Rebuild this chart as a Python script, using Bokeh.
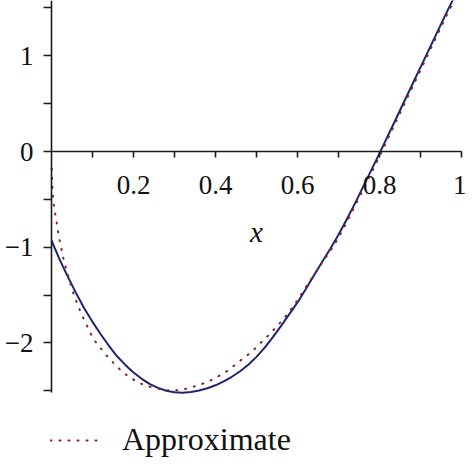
from bokeh.plotting import figure
from bokeh.models import Range1d, FixedTicker
from bokeh.embed import file_html
from bokeh.resources import INLINE

# ---- data ----
x_exact = [0.00, 0.02, 0.04, 0.06, 0.08, 0.10, 0.12, 0.14, 0.16, 0.18, 0.20,
           0.22, 0.24, 0.26, 0.28, 0.30, 0.32, 0.34, 0.36, 0.38, 0.40, 0.42,
           0.44, 0.46, 0.48, 0.50, 0.52, 0.54, 0.56, 0.58, 0.60, 0.62, 0.64,
           0.66, 0.68, 0.70, 0.72, 0.74, 0.76, 0.78, 0.80, 0.84, 0.88, 0.92,
           0.96, 1.00]
y_exact = [-0.93, -1.13, -1.31, -1.48, -1.64, -1.78, -1.91, -2.03, -2.14, -2.23, -2.31,
           -2.375, -2.43, -2.47, -2.50, -2.515, -2.52, -2.513, -2.498, -2.474, -2.443, -2.403,
           -2.354, -2.296, -2.228, -2.146, -2.05, -1.94, -1.822, -1.70, -1.577, -1.44, -1.296,
           -1.155, -1.016, -0.87, -0.71, -0.545, -0.37, -0.195, -0.02, 0.34, 0.70, 1.06,
           1.42, 1.77]

x_approx = [0.0005, 0.002, 0.004, 0.007, 0.011, 0.015, 0.019, 0.024, 0.028, 0.034,
            0.047, 0.054, 0.063, 0.072, 0.082, 0.092, 0.102, 0.118, 0.133, 0.149,
            0.165, 0.184, 0.204, 0.224, 0.247, 0.27, 0.293, 0.317, 0.34, 0.363,
            0.385, 0.406, 0.427, 0.446, 0.463, 0.482, 0.50, 0.516, 0.533, 0.549,
            0.566, 0.58, 0.594, 0.62, 0.64, 0.66, 0.672, 0.687, 0.70, 0.72,
            0.76, 0.80, 0.84, 0.88, 0.92, 0.96, 1.00]
y_approx = [-0.18, -0.35, -0.50, -0.60, -0.70, -0.81, -0.91, -1.01, -1.10, -1.20,
            -1.39, -1.49, -1.59, -1.69, -1.78, -1.87, -1.96, -2.045, -2.125, -2.20,
            -2.27, -2.34, -2.393, -2.438, -2.466, -2.487, -2.50, -2.49, -2.466, -2.435,
            -2.40, -2.351, -2.299, -2.236, -2.177, -2.114, -2.045, -1.975, -1.905, -1.829,
            -1.749, -1.672, -1.592, -1.42, -1.29, -1.16, -1.087, -0.993, -0.902, -0.74,
            -0.40, -0.05, 0.31, 0.67, 1.03, 1.39, 1.74]

x_ticks = [0.2, 0.4, 0.6, 0.8, 1.0]
x_minor_ticks = [0.1, 0.3, 0.5, 0.7, 0.9]
x_tick_labels = ["0.2", "0.4", "0.6", "0.8", "1"]
y_ticks = [-2, -1, 0, 1]
y_minor_ticks = [-2.5, -1.5, -0.5, 0.5, 1.5]
y_tick_labels = ["\u22122", "\u22121", "0", "1"]

x_label = "x"
legend_approx = "Approximate"

# ---- figure ----
W, H = 466, 458
x0_px, x_scale = 51.0, 410.0
y0_px, y_scale = 151.0, 95.7

p = figure(width=W, height=H, output_backend="svg", toolbar_location=None,
           x_range=Range1d(-x0_px / x_scale, (W - x0_px) / x_scale),
           y_range=Range1d(-(H - y0_px) / y_scale, y0_px / y_scale),
           min_border=0, min_border_left=0, min_border_right=0,
           min_border_top=0, min_border_bottom=0)
p.outline_line_color = None
p.xgrid.visible = False
p.ygrid.visible = False
p.background_fill_color = "white"
p.border_fill_color = "white"

axis_color = "#1a1a1a"
font = "Liberation Serif"

xa = p.xaxis[0]
xa.fixed_location = 0
xa.bounds = (0, 1.0)
xa.ticker = FixedTicker(ticks=x_ticks, minor_ticks=x_minor_ticks)
xa.major_label_overrides = {t: l for t, l in zip(x_ticks, x_tick_labels)}
xa.axis_line_color = axis_color
xa.axis_line_width = 1.6
xa.major_tick_in = 0
xa.major_tick_out = 6
xa.minor_tick_in = 0
xa.minor_tick_out = 6
xa.major_tick_line_color = axis_color
xa.minor_tick_line_color = axis_color
xa.major_tick_line_width = 1.6
xa.minor_tick_line_width = 1.6
xa.major_label_text_font = font
xa.major_label_text_font_size = "27px"
xa.major_label_text_color = "#111111"
xa.major_label_standoff = 18
xa.axis_label = x_label
xa.axis_label_text_font = font
xa.axis_label_text_font_style = "italic"
xa.axis_label_text_font_size = "29px"
xa.axis_label_text_color = "#111111"
xa.axis_label_standoff = 19

ya = p.yaxis[0]
ya.fixed_location = 0
ya.bounds = (-2.52, 1.6)
ya.ticker = FixedTicker(ticks=y_ticks, minor_ticks=y_minor_ticks)
ya.major_label_overrides = {t: l for t, l in zip(y_ticks, y_tick_labels)}
ya.axis_line_color = axis_color
ya.axis_line_width = 1.6
ya.major_tick_in = 0
ya.major_tick_out = 8
ya.minor_tick_in = 0
ya.minor_tick_out = 8
ya.major_tick_line_color = axis_color
ya.minor_tick_line_color = axis_color
ya.major_tick_line_width = 1.6
ya.minor_tick_line_width = 1.6
ya.major_label_text_font = font
ya.major_label_text_font_size = "27px"
ya.major_label_text_color = "#111111"
ya.major_label_standoff = 10
ya.major_label_orientation = "horizontal"

p.line(x_exact, y_exact, line_color="#1f2470", line_width=2.0)
p.line(x_approx, y_approx, line_color="#8c1d2b", line_width=2.0,
       line_dash="1 8", line_cap="round", legend_label=legend_approx)

lg = p.legend[0]
lg.location = (50, 0)
lg.glyph_width = 52
lg.glyph_height = 30
lg.label_height = 30
lg.label_standoff = 20
lg.padding = 0
lg.margin = 0
lg.spacing = 0
lg.border_line_color = None
lg.background_fill_alpha = 0
lg.label_text_font = font
lg.label_text_font_size = "32px"
lg.label_text_color = "#111111"

open("out.html", "w").write(file_html(p, INLINE))
